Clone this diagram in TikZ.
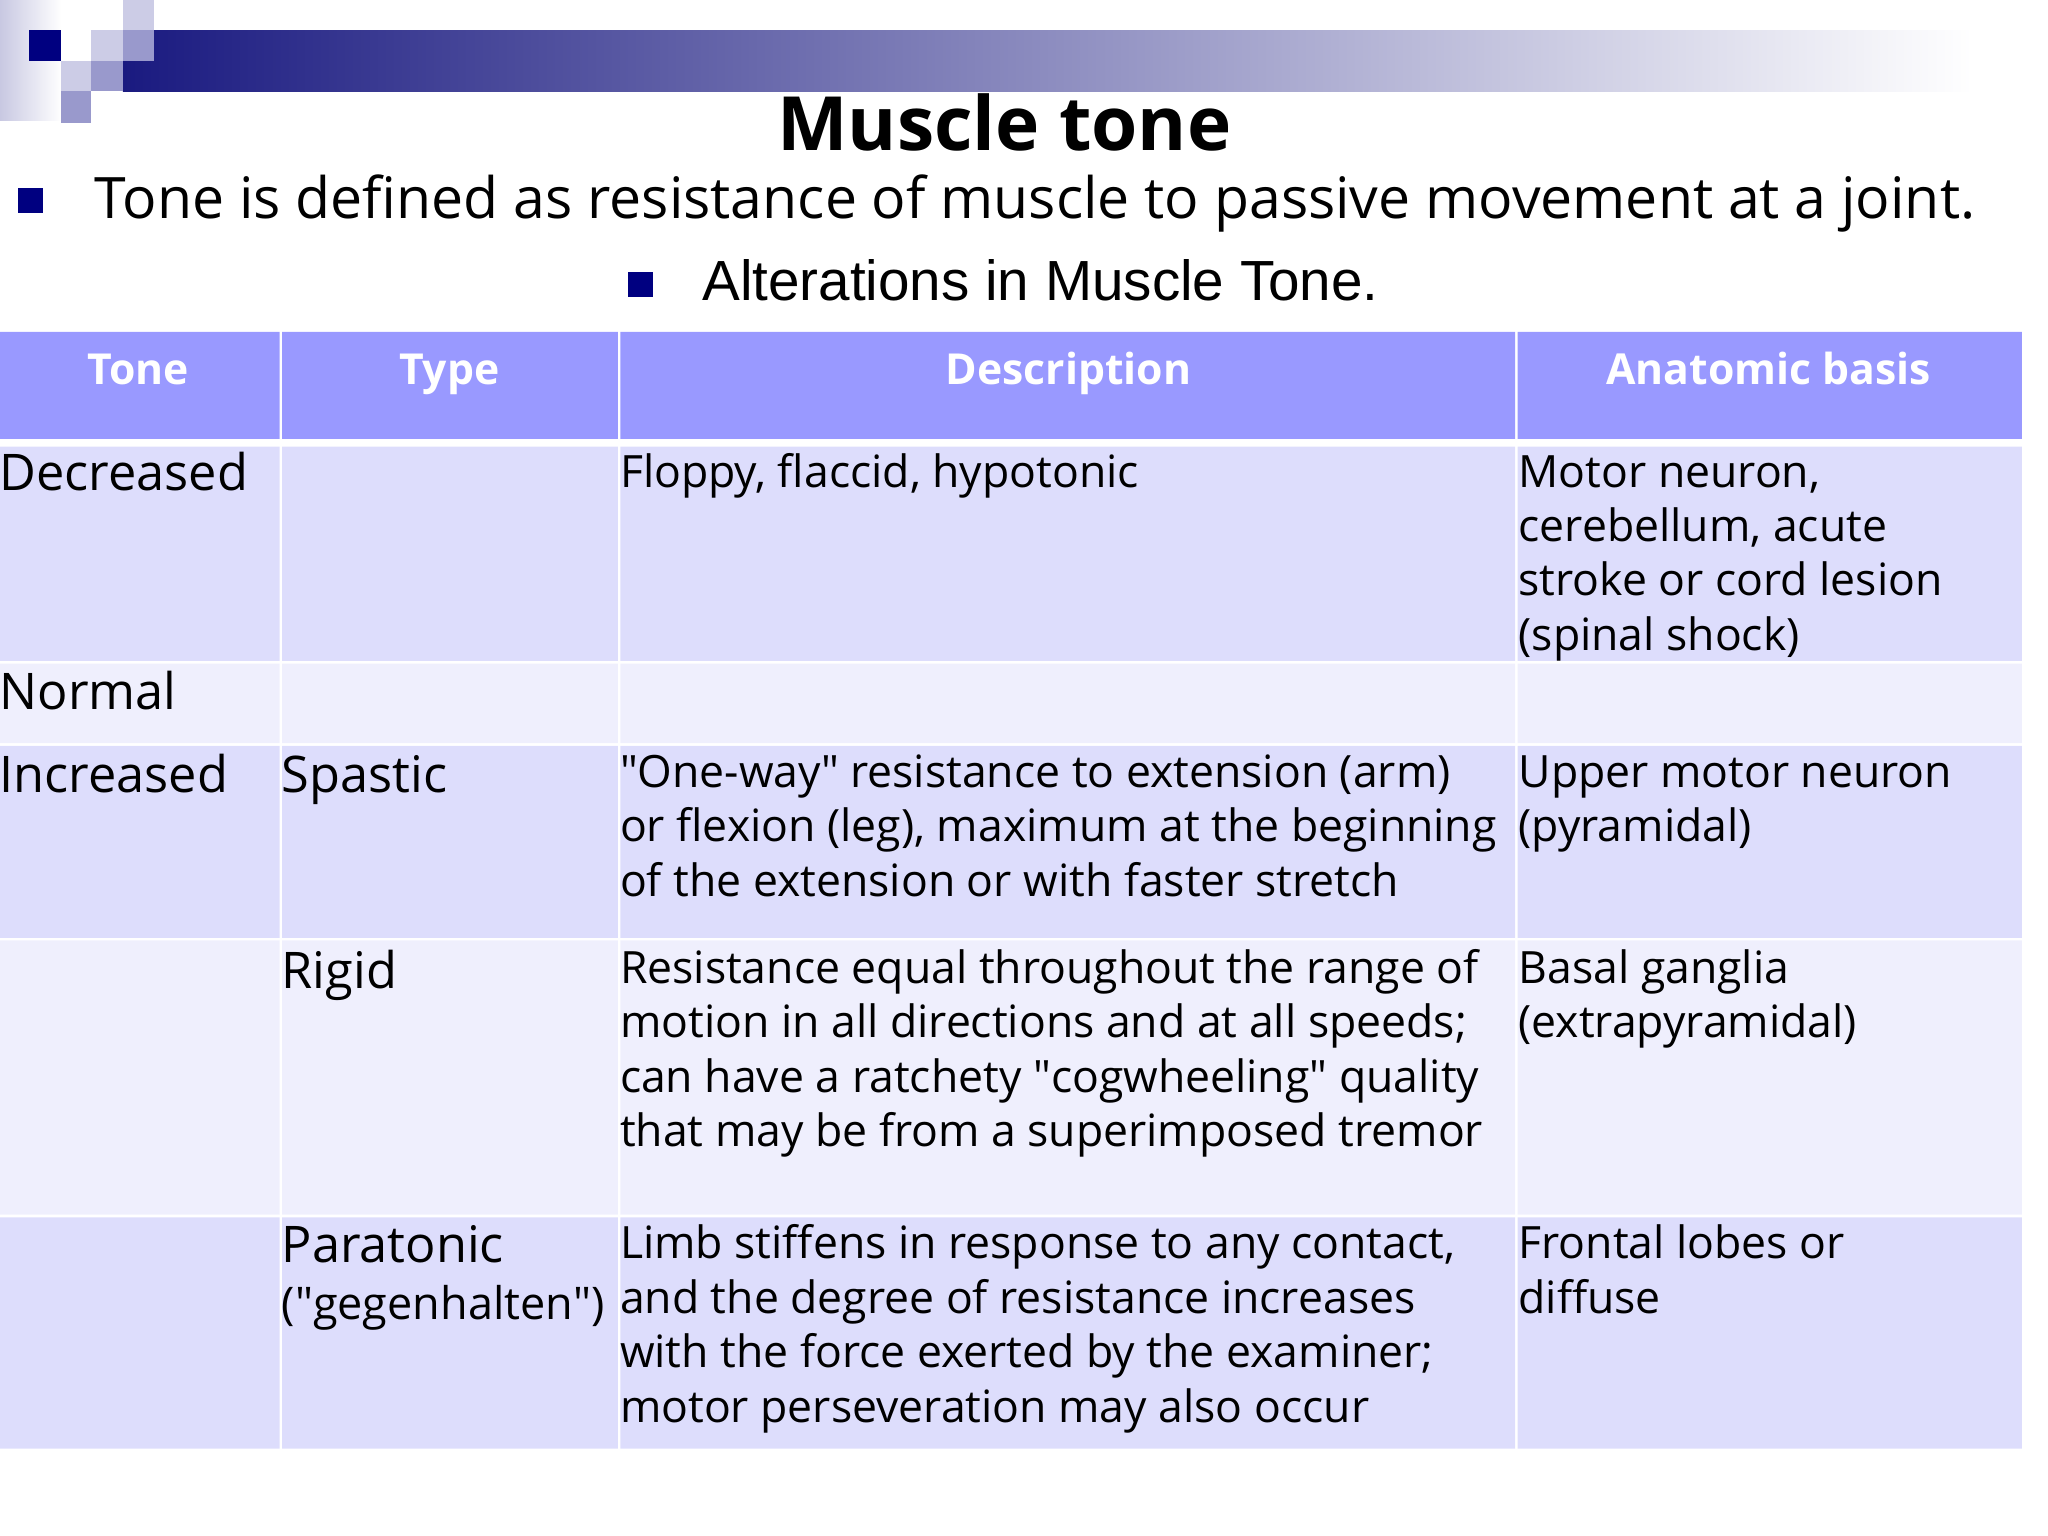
\documentclass[tikz,border=0pt]{standalone}
\usepackage{fontspec}
\setmainfont{Open Sans}
\newfontfamily\arialfont{Liberation Sans}
\definecolor{navybar}{HTML}{000080}
\definecolor{barstart}{HTML}{1A1A80}
\definecolor{barmid}{HTML}{ADADBC}
\definecolor{lightsq}{HTML}{CCCCE6}
\definecolor{midsq}{HTML}{9999CC}
\definecolor{fadesq}{HTML}{C8C8E2}
\definecolor{headfill}{HTML}{9999FF}
\definecolor{rowdark}{HTML}{DDDDFC}
\definecolor{rowlight}{HTML}{EFEFFD}
\tikzset{
  body/.style={anchor=north west,inner sep=0pt,align=left,font=\fontsize{9.7}{11.85}\selectfont},
  first/.style={anchor=north west,inner sep=0pt,align=left,font=\fontsize{11}{12.5}\selectfont},
  head/.style={anchor=base,inner sep=0pt,text=white,font=\fontsize{9.3}{11}\selectfont\bfseries}
}
\begin{document}
\begin{tikzpicture}[x=0.1mm,y=-0.1mm]
\useasboundingbox (0,0) rectangle (1568,1176);
\shade[left color=fadesq,right color=white] (0,0) rectangle (47,92);
\shade[left color=barstart,middle color=barmid,right color=white] (94,23) rectangle (1510,70);
\fill[white] (47,0) rectangle (94,23);
\fill[navybar] (22,23) rectangle (47,47);
\fill[lightsq] (94,0) rectangle (118,23);
\fill[lightsq] (70,23) rectangle (94,47);
\fill[midsq] (94,23) rectangle (118,47);
\fill[lightsq] (47,47) rectangle (70,70);
\fill[midsq] (70,47) rectangle (94,70);
\fill[midsq] (47,70) rectangle (70,94);
\node[anchor=base,inner sep=0pt,font=\fontsize{16.3}{20}\selectfont\bfseries] (title) at (769,115) {Muscle tone};
\fill[navybar] (14,144) rectangle (33,163);
\node[anchor=base west,inner sep=0pt,font=\fontsize{12.45}{16}\selectfont] (deftext) at (72,167) {Tone is defined as resistance of muscle to passive movement at a joint.};
\fill[navybar] (481,208) rectangle (500,227);
\node[anchor=base west,inner sep=0pt,font=\arialfont\fontsize{12.33}{14}\selectfont] (alttext) at (537,230) {Alterations in Muscle Tone.};
% table
\fill[headfill] (0,254) rectangle (214,336) (216,254) rectangle (473,336) (475,254) rectangle (1160,336) (1162,254) rectangle (1548,336);
\foreach \ya/\yb/\c in {342/506/rowdark,508/569/rowlight,571/718/rowdark,720/930/rowlight,932/1109/rowdark}{
  \fill[\c] (0,\ya) rectangle (214,\yb) (216,\ya) rectangle (473,\yb) (475,\ya) rectangle (1160,\yb) (1162,\ya) rectangle (1548,\yb);
}
\node[head] (htone) at (106,294) {Tone};
\node[head] (htype) at (344,294) {Type};
\node[head] (hdesc) at (818,294) {Description};
\node[head] (hbasis) at (1354,294) {Anatomic basis};
\node[first] (decr) at (-1,344) {\strut Decreased};
\node[first] (norm) at (-1,512) {\strut Normal};
\node[first] (incr) at (-1,575) {\strut Increased};
\node[first] (spas) at (215,575) {\strut Spastic};
\node[first] (rigid) at (215,725) {\strut Rigid};
\node[first] (para) at (215,935) {\strut Paratonic\\{\fontsize{9.8}{12.5}\selectfont(\textquotedbl gegenhalten\textquotedbl)}};
\node[body] (d1) at (474,343) {\strut Floppy, flaccid, hypotonic};
\node[body] (d3) at (474,573) {\strut \textquotedbl One-way\textquotedbl{} resistance to extension (arm)\\or flexion (leg), maximum at the beginning\\of the extension or with faster stretch};
\node[body] (d4) at (474,723) {\strut Resistance equal throughout the range of\\motion in all directions and at all speeds;\\can have a ratchety \textquotedbl cogwheeling\textquotedbl{} quality\\that may be from a superimposed tremor};
\node[body] (d5) at (474,934) {\strut Limb stiffens in response to any contact,\\and the degree of resistance increases\\with the force exerted by the examiner;\\motor perseveration may also occur};
\node[body] (a1) at (1162,343) {\strut Motor neuron,\\cerebellum, acute\\stroke or cord lesion\\(spinal shock)};
\node[body] (a3) at (1162,573) {\strut Upper motor neuron\\(pyramidal)};
\node[body] (a4) at (1162,723) {\strut Basal ganglia\\(extrapyramidal)};
\node[body] (a5) at (1162,934) {\strut Frontal lobes or\\diffuse};
\end{tikzpicture}
\end{document}
